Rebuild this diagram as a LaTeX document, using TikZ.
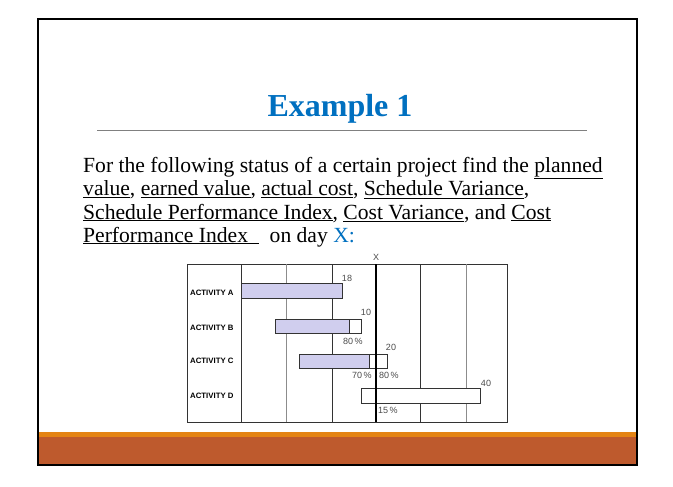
\documentclass[tikz,border=0pt]{standalone}
\usepackage{fontspec}
\setmainfont{Liberation Serif}
\setsansfont{Liberation Sans}
\definecolor{tblue}{RGB}{0,112,192}
\definecolor{band}{RGB}{190,90,45}
\definecolor{oband}{RGB}{228,132,20}
\definecolor{lav}{RGB}{208,206,238}
\begin{document}
\begin{tikzpicture}[x=1pt,y=-1pt,
  bodyline/.style={anchor=base west,inner sep=0,font=\fontsize{21.6}{21.6}\selectfont},
  act/.style={anchor=west,inner sep=0,font=\sffamily\bfseries\fontsize{7.8}{7.8}\selectfont},
  num/.style={inner sep=0,text=black!70,font=\sffamily\fontsize{9}{9}\selectfont},
  filled/.style={draw=black!80,fill=lav,line width=0.8pt},
  empty/.style={draw=black!80,fill=white,line width=0.8pt}]
\useasboundingbox (0,0) rectangle (673,487);
\fill[white] (0,0) rectangle (673,487);
\fill[oband] (38,432) rectangle (637,437);
\fill[band] (38,437) rectangle (637,465);
\draw[line width=1.5pt] (38,19) rectangle (637,465);
\node[inner sep=0,text=tblue,font=\bfseries\fontsize{32}{32}\selectfont] (title) at (340,109) {Example 1};
\draw[gray,line width=0.8pt] (97,130) -- (587,130);
\node[bodyline] (l1) at (83,172) {For the following status of a certain project find the \underline{planned}};
\node[bodyline] (l2) at (83,196) {\underline{value}, \underline{earned value}, \underline{actual cost}, \underline{Schedule Variance},};
\node[bodyline] (l3) at (83,219) {\underline{Schedule Performance Index}, \underline{Cost Variance}, and \underline{Cost}};
\node[bodyline] (l4) at (83,242) {\underline{Performance Index\ \ }\ \ on day \textcolor{tblue}{X:}};
% chart
\draw[black!80,line width=0.8pt] (187,264) rectangle (507,422);
\foreach \x/\c in {241/black!80,286/black!45,332/black!80,420/black!80,466/black!45}
  \draw[\c,line width=0.9pt] (\x,264) -- (\x,422);
\draw[black!45,line width=0.9pt] (376,264) -- (376,422);
\node[act] (aA) at (190,293) {ACTIVITY A};
\node[act] (aB) at (190,328) {ACTIVITY B};
\node[act] (aC) at (190,361) {ACTIVITY C};
\node[act] (aD) at (190,396) {ACTIVITY D};
\draw[filled] (241,283) rectangle (342,298);
\draw[filled] (275,319) rectangle (349,333);
\draw[empty] (349,319) rectangle (361,333);
\draw[filled] (299,354) rectangle (369,368);
\draw[empty] (369,354) rectangle (387,368);
\draw[empty] (361,388) rectangle (480,403);
\draw[black!45,line width=0.9pt] (376,354) -- (376,368) (376,388) -- (376,403);
\draw[line width=2.8pt] (376,264) -- (376,422);
\node[num] (x) at (376,257) {X};
\node[num] (n18) at (347,278) {18};
\node[num] (n10) at (366,312) {10};
\node[num] (p80b) at (353,341) {80\,\%};
\node[num] (n20) at (391,347) {20};
\node[num] (p70) at (362,375) {70\,\%};
\node[num] (p80c) at (389,375) {80\,\%};
\node[num] (n40) at (486,383) {40};
\node[num] (p15) at (388,410) {15\,\%};
\end{tikzpicture}
\end{document}
